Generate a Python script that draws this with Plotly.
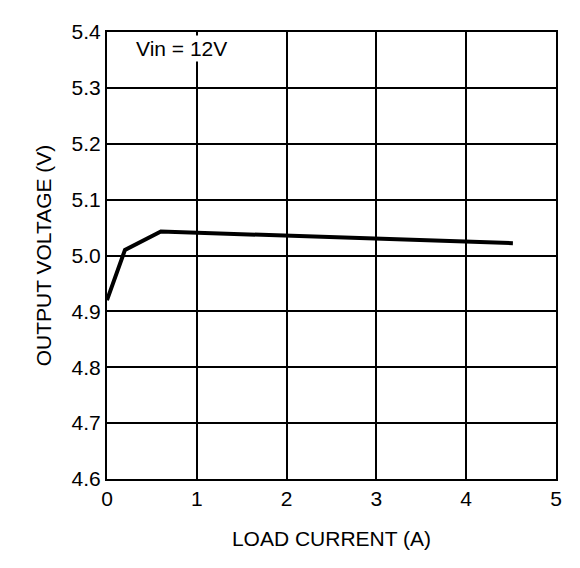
import plotly.graph_objects as go

load_current = [0, 0.2, 0.6, 4.52]
output_voltage = [4.92, 5.01, 5.043, 5.022]

fig = go.Figure()
fig.add_trace(go.Scatter(x=load_current, y=output_voltage, mode="lines",
                         line=dict(color="black", width=4), showlegend=False))

fig.add_annotation(x=0.3, y=5.37, text="Vin = 12V", showarrow=False,
                   xanchor="left", yanchor="middle", bgcolor="white",
                   font=dict(size=21, color="black"))

axis_style = dict(showgrid=True, gridcolor="black", gridwidth=1.5,
                  showline=True, linecolor="black", linewidth=2, mirror=True,
                  ticks="", zeroline=False, tickfont=dict(size=21, color="black"),
                  title_font=dict(size=21, color="black"))

fig.update_xaxes(range=[0, 5], dtick=1, title_text="LOAD CURRENT (A)",
                 title_standoff=22, **axis_style)
fig.update_yaxes(range=[4.6, 5.4], dtick=0.1, tickformat=".1f",
                 title_text="OUTPUT VOLTAGE (V)", title_standoff=14, **axis_style)

fig.update_layout(width=580, height=568, plot_bgcolor="white", paper_bgcolor="white",
                  font=dict(family="Liberation Sans, Arial", color="black"),
                  margin=dict(l=99, r=32, t=22, b=97))

fig.write_html("out.html")
